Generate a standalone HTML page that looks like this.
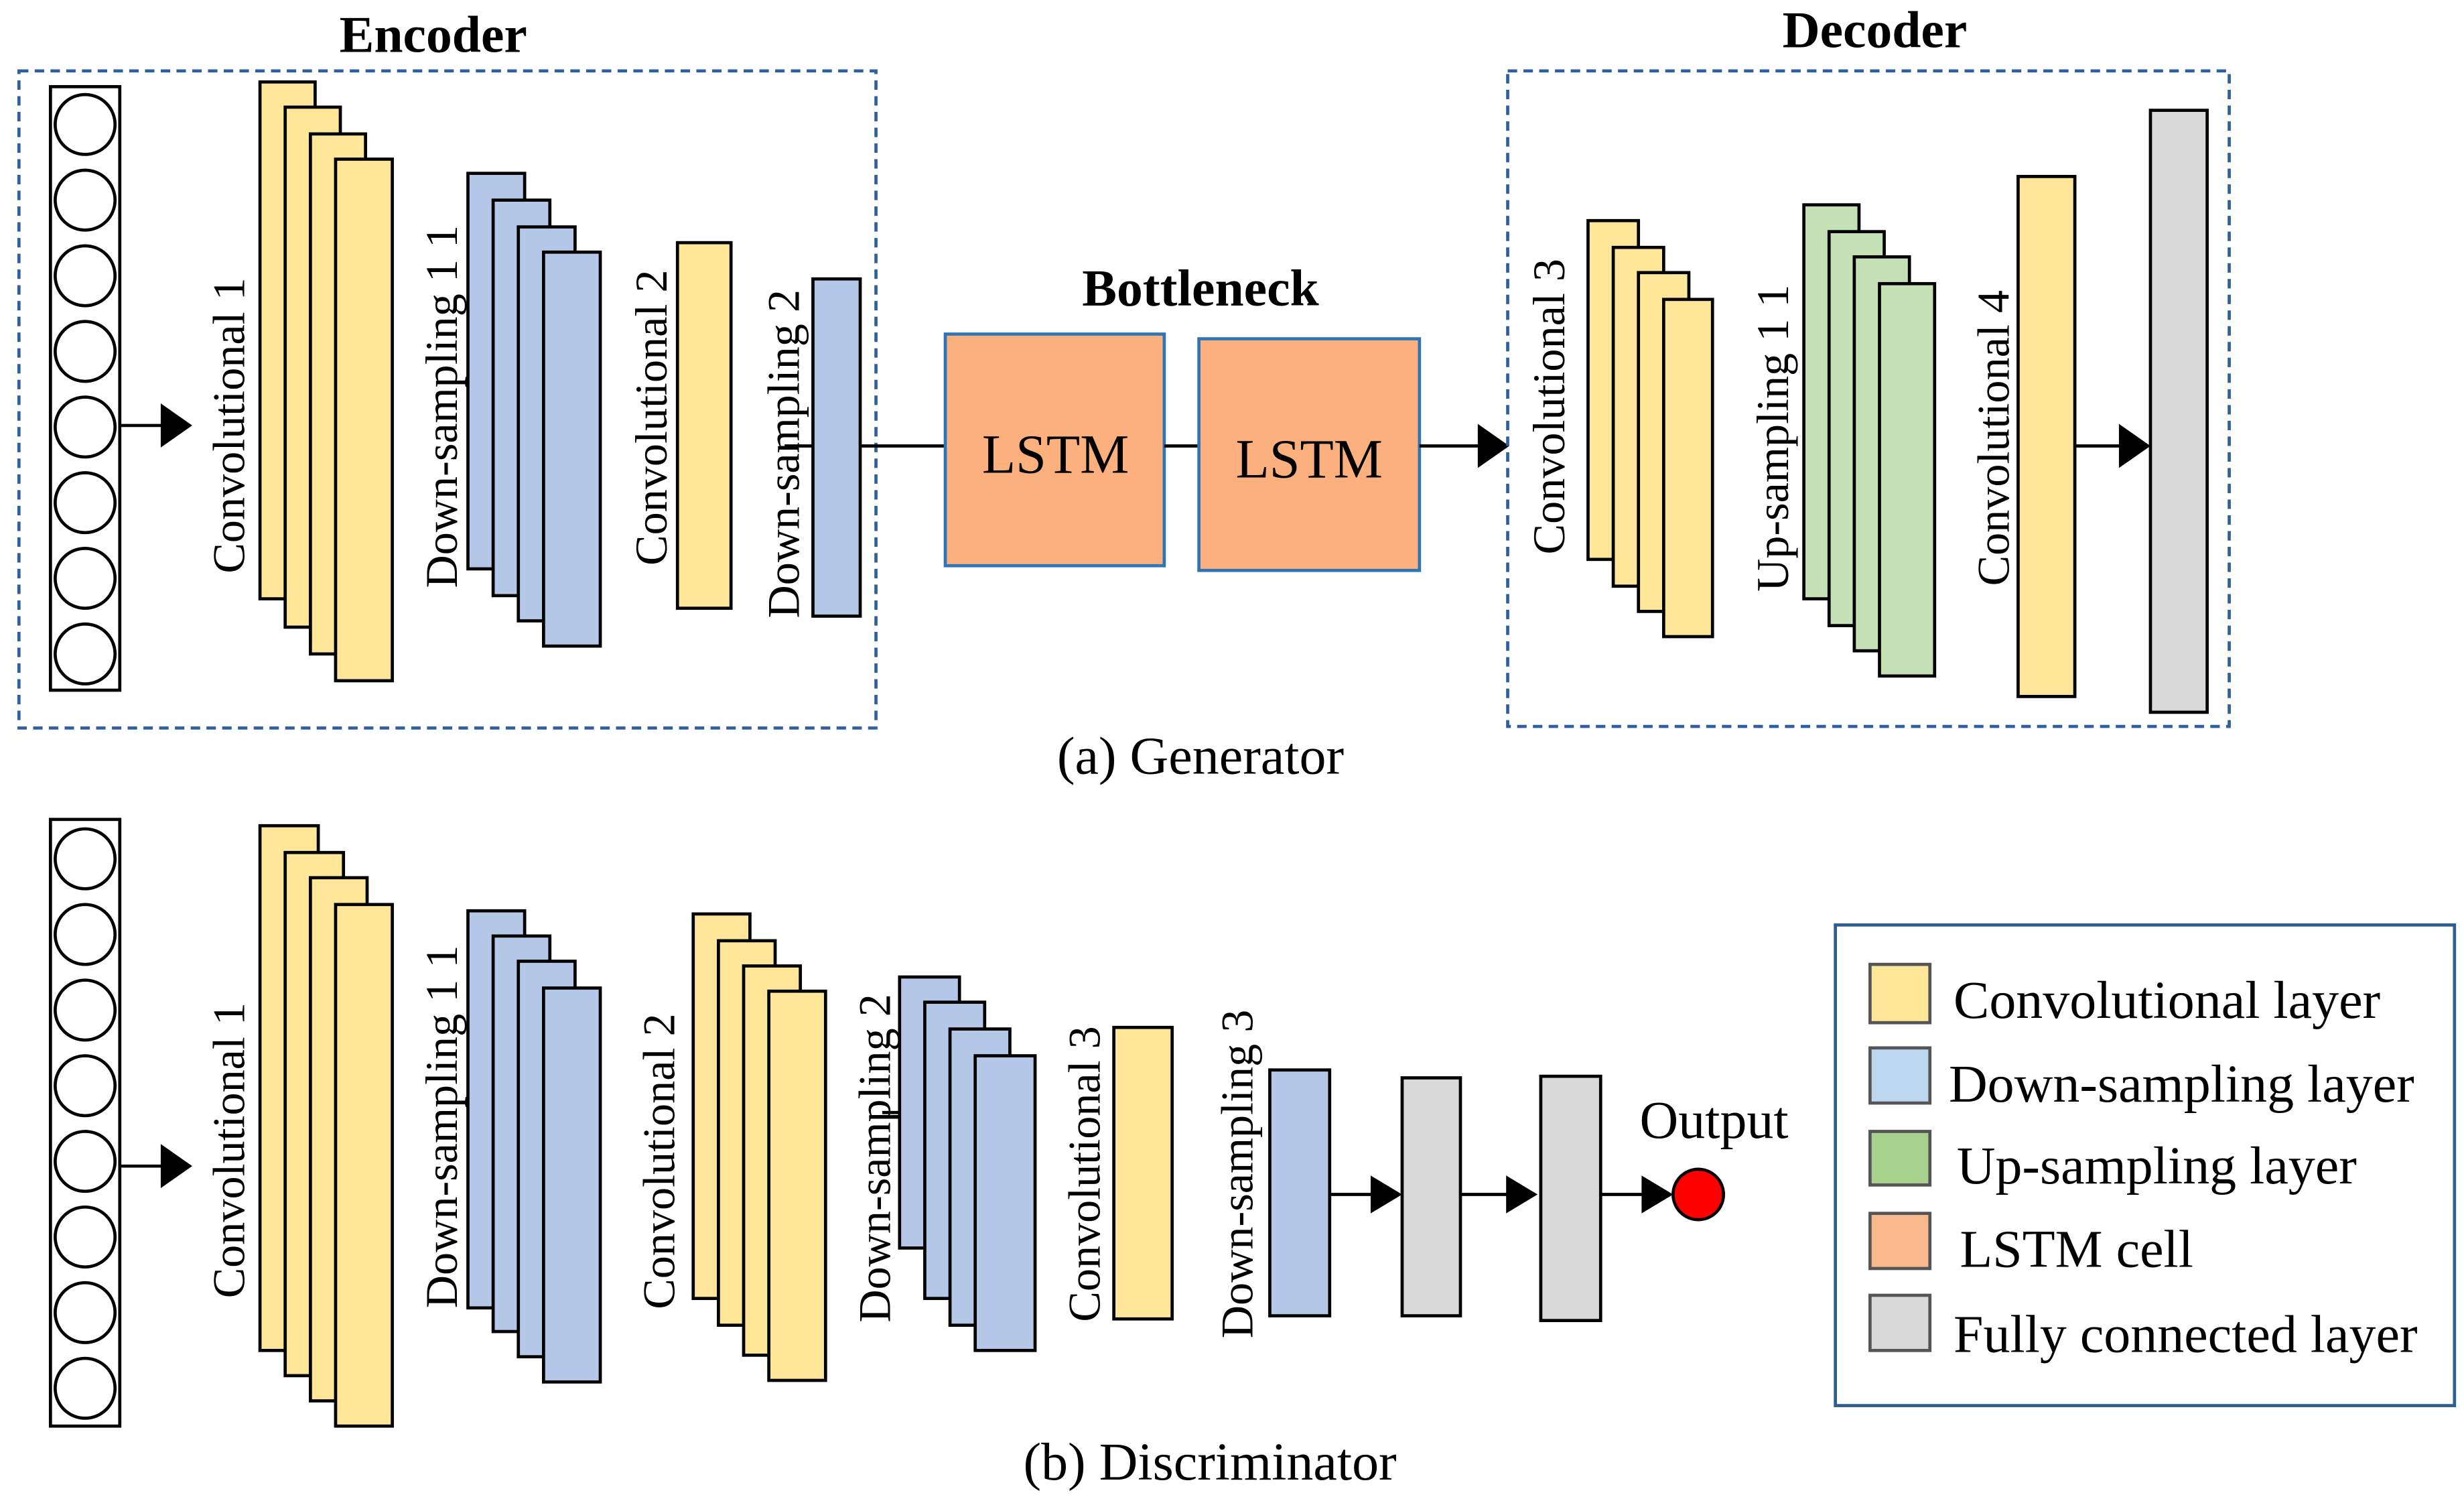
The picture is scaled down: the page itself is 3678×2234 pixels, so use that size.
<!DOCTYPE html>
<html><head><meta charset="utf-8"><style>
html,body{margin:0;padding:0;background:#fff;}
svg{display:block;}
text{font-family:"Liberation Serif",serif;fill:#000;}
</style></head><body>
<svg width="3678" height="2234" viewBox="0 0 1564 950" xmlns="http://www.w3.org/2000/svg">
<g stroke="#000" stroke-width="2">
<!-- Encoder -->
<rect x="12" y="45" width="544" height="417" fill="none" stroke="#2E5FA0" stroke-dasharray="6,4"/>
<rect x="32" y="55" width="44" height="383" fill="#fff"/>
<g fill="#fff">
<circle cx="54" cy="79" r="19"/><circle cx="54" cy="127" r="19"/><circle cx="54" cy="175" r="19"/><circle cx="54" cy="223" r="19"/><circle cx="54" cy="271" r="19"/><circle cx="54" cy="319" r="19"/><circle cx="54" cy="367" r="19"/><circle cx="54" cy="415" r="19"/>
</g>
<line x1="76" y1="270" x2="104" y2="270"/>
<path d="M102,256 L122,270 L102,284 z" fill="#000" stroke="none"/>
<g fill="#FFE699">
<rect x="165" y="52" width="35" height="328"/><rect x="181" y="68" width="35" height="330"/><rect x="197" y="85" width="35" height="330"/><rect x="213" y="101" width="36" height="331"/>
</g>
<g fill="#B4C7E7">
<rect x="297" y="110" width="36" height="251"/><rect x="313" y="127" width="36" height="251"/><rect x="329" y="144" width="36" height="250"/><rect x="345" y="160" width="36" height="250"/>
</g>
<rect x="430" y="154" width="34" height="232" fill="#FFE699"/>
<rect x="516" y="177" width="30" height="214" fill="#B4C7E7"/>
<line x1="498" y1="283" x2="516" y2="283"/>
<line x1="546" y1="283" x2="600" y2="283"/>
<rect x="600" y="212" width="139" height="147" fill="#FBB07E" stroke="#2E75B6"/>
<line x1="739" y1="283" x2="761" y2="283"/>
<rect x="761" y="215" width="140" height="147" fill="#FBB07E" stroke="#2E75B6"/>
<line x1="901" y1="283" x2="940" y2="283"/>
<path d="M938,269 L958,283 L938,297 z" fill="#000" stroke="none"/>
<!-- Decoder -->
<rect x="957" y="45" width="458" height="416" fill="none" stroke="#2E5FA0" stroke-dasharray="6,4"/>
<g fill="#FFE699">
<rect x="1008" y="140" width="32" height="215"/><rect x="1024" y="157" width="32" height="215"/><rect x="1040" y="173" width="32" height="215"/><rect x="1056" y="190" width="31" height="214"/>
</g>
<g fill="#C5E0B4">
<rect x="1145" y="130" width="35" height="250"/><rect x="1161" y="147" width="35" height="250"/><rect x="1177" y="163" width="35" height="250"/><rect x="1193" y="180" width="35" height="249"/>
</g>
<rect x="1281" y="112" width="36" height="330" fill="#FFE699"/>
<line x1="1317" y1="283" x2="1346" y2="283"/>
<path d="M1345,269 L1365,283 L1345,297 z" fill="#000" stroke="none"/>
<rect x="1365" y="70" width="36" height="382" fill="#D9D9D9"/>
<!-- Discriminator -->
<rect x="32" y="520" width="44" height="385" fill="#fff"/>
<g fill="#fff">
<circle cx="54" cy="545" r="19"/><circle cx="54" cy="593" r="19"/><circle cx="54" cy="641" r="19"/><circle cx="54" cy="689" r="19"/><circle cx="54" cy="737" r="19"/><circle cx="54" cy="785" r="19"/><circle cx="54" cy="833" r="19"/><circle cx="54" cy="881" r="19"/>
</g>
<line x1="76" y1="740" x2="104" y2="740"/>
<path d="M102,726 L122,740 L102,754 z" fill="#000" stroke="none"/>
<g fill="#FFE699">
<rect x="165" y="524" width="37" height="333"/><rect x="181" y="541" width="37" height="332"/><rect x="197" y="557" width="36" height="332"/><rect x="213" y="574" width="36" height="331"/>
</g>
<g fill="#B4C7E7">
<rect x="297" y="578" width="36" height="252"/><rect x="313" y="594" width="36" height="251"/><rect x="329" y="610" width="36" height="251"/><rect x="345" y="627" width="36" height="250"/>
</g>
<g fill="#FFE699">
<rect x="440" y="580" width="36" height="244"/><rect x="456" y="597" width="36" height="244"/><rect x="472" y="613" width="36" height="247"/><rect x="488" y="629" width="36" height="247"/>
</g>
<line x1="560" y1="706" x2="571" y2="706"/>
<g fill="#B4C7E7">
<rect x="571" y="620" width="38" height="172"/><rect x="587" y="636" width="38" height="188"/><rect x="603" y="653" width="38" height="188"/><rect x="619" y="670" width="38" height="187"/>
</g>
<rect x="707" y="652" width="37" height="185" fill="#FFE699"/>
<rect x="806" y="679" width="38" height="156" fill="#B4C7E7"/>
<line x1="844" y1="758" x2="872" y2="758"/>
<path d="M870,746 L890,758 L870,770 z" fill="#000" stroke="none"/>
<rect x="890" y="684" width="37" height="151" fill="#D9D9D9"/>
<line x1="927" y1="758" x2="958" y2="758"/>
<path d="M956,746 L976,758 L956,770 z" fill="#000" stroke="none"/>
<rect x="978" y="683" width="38" height="155" fill="#D9D9D9"/>
<line x1="1016" y1="758" x2="1044" y2="758"/>
<path d="M1042,746 L1062,758 L1042,770 z" fill="#000" stroke="none"/>
<circle cx="1078" cy="758" r="16" fill="#FF0000"/>
<!-- Legend -->
<rect x="1165" y="587" width="393" height="305" fill="#fff" stroke="#2E5D8F"/>
<rect x="1187" y="612" width="38" height="37" fill="#FFE699" stroke="#555"/>
<rect x="1187" y="665" width="38" height="35" fill="#BDD7EE" stroke="#555"/>
<rect x="1187" y="718" width="38" height="34" fill="#A9D18E" stroke="#555"/>
<rect x="1187" y="770" width="38" height="35" fill="#F8B88B" stroke="#555"/>
<rect x="1187" y="822" width="38" height="35" fill="#D9D9D9" stroke="#555"/>
</g>
<g font-size="34">
<text x="275" y="33" text-anchor="middle" font-weight="bold" font-size="33">Encoder</text>
<text x="1190" y="30" text-anchor="middle" font-weight="bold" font-size="33">Decoder</text>
<text x="762" y="194" text-anchor="middle" font-weight="bold" font-size="33">Bottleneck</text>
<text x="670" y="300" text-anchor="middle" font-size="35">LSTM</text>
<text x="831" y="303" text-anchor="middle" font-size="35">LSTM</text>
<text x="762" y="491" text-anchor="middle">(a) Generator</text>
<text x="768" y="939" text-anchor="middle">(b) Discriminator</text>
<text x="1088" y="722" text-anchor="middle">Output</text>
<text transform="translate(155,270) rotate(-90)" text-anchor="middle" font-size="29">Convolutional 1</text>
<text transform="translate(290,258) rotate(-90)" text-anchor="middle" font-size="29">Down-sampling 1 1</text>
<text transform="translate(423,265) rotate(-90)" text-anchor="middle" font-size="29">Convolutional 2</text>
<text transform="translate(507,288) rotate(-90)" text-anchor="middle" font-size="29">Down-sampling 2</text>
<text transform="translate(993,258) rotate(-90)" text-anchor="middle" font-size="29">Convolutional 3</text>
<text transform="translate(1135,278) rotate(-90)" text-anchor="middle" font-size="29">Up-sampling 1 1</text>
<text transform="translate(1275,278) rotate(-90)" text-anchor="middle" font-size="29">Convolutional 4</text>
<text transform="translate(155,730) rotate(-90)" text-anchor="middle" font-size="29">Convolutional 1</text>
<text transform="translate(290,715) rotate(-90)" text-anchor="middle" font-size="29">Down-sampling 1 1</text>
<text transform="translate(428,737) rotate(-90)" text-anchor="middle" font-size="29">Convolutional 2</text>
<text transform="translate(565,735) rotate(-90)" text-anchor="middle" font-size="29">Down-sampling 2</text>
<text transform="translate(698,745) rotate(-90)" text-anchor="middle" font-size="29">Convolutional 3</text>
<text transform="translate(795,745) rotate(-90)" text-anchor="middle" font-size="29">Down-sampling 3</text>
<text x="1240" y="646">Convolutional layer</text>
<text x="1237" y="699">Down-sampling layer</text>
<text x="1242" y="751">Up-sampling layer</text>
<text x="1244" y="804">LSTM cell</text>
<text x="1240" y="858">Fully connected layer</text>
</g>
</svg>
</body></html>
